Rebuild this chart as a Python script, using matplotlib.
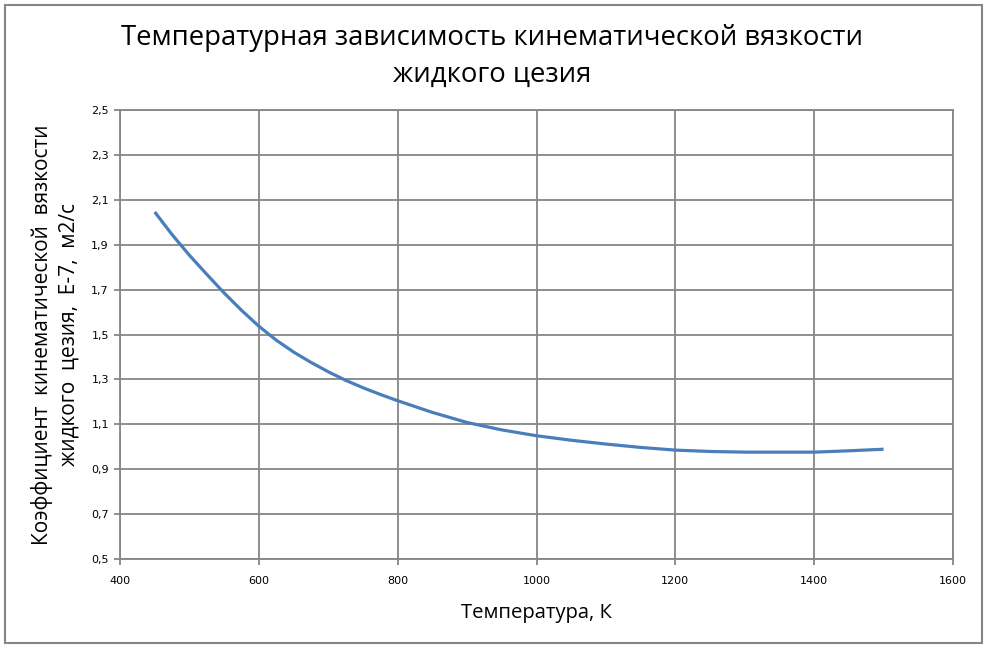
import matplotlib.pyplot as plt
from matplotlib.patches import Rectangle
from matplotlib.ticker import FuncFormatter

# температура, K
temp = [450, 475, 500, 525, 550, 575, 600, 625, 650, 675, 700, 725, 750,
        775, 800, 850, 900, 950, 1000, 1050, 1100, 1150, 1200, 1250, 1300,
        1350, 1400, 1450, 1500]
# кинематическая вязкость, E-7 м2/с
visc = [2.046, 1.945, 1.853, 1.768, 1.685, 1.608, 1.537, 1.475, 1.422,
        1.376, 1.334, 1.296, 1.263, 1.233, 1.205, 1.153, 1.108, 1.075,
        1.049, 1.029, 1.012, 0.997, 0.985, 0.979, 0.976, 0.976, 0.976,
        0.982, 0.989]

grid_c = '#868686'

fig = plt.figure(figsize=(9.87, 6.48), dpi=100)
ax = fig.add_axes([120 / 987, 1 - 559 / 648, 833 / 987, 449 / 648])

ax.plot(temp, visc, color='#4a7ebb', lw=2.3, solid_capstyle='butt')

ax.set_xlim(400, 1600)
ax.set_ylim(0.5, 2.5)
ax.set_xticks(range(400, 1601, 200))
ax.set_yticks([0.5, 0.7, 0.9, 1.1, 1.3, 1.5, 1.7, 1.9, 2.1, 2.3, 2.5])
ax.yaxis.set_major_formatter(FuncFormatter(lambda v, p: f'{v:.1f}'.replace('.', ',')))
ax.grid(True, color=grid_c, lw=1.3)
ax.set_axisbelow(True)
for s in ax.spines.values():
    s.set_color(grid_c)
    s.set_linewidth(1.3)
ax.tick_params(direction='out', length=4, width=1.3, color=grid_c,
               labelsize=8, pad=4)
ax.tick_params(axis='x', pad=8)

fig.text(0.4985, 1 - 56.5 / 648,
         'Температурная зависимость кинематической вязкости\nжидкого цезия',
         ha='center', va='center', fontsize=19.8, family='Open Sans',
         linespacing=1.46)
fig.text(0.5436, 1 - 613 / 648, 'Температура, К', ha='center', va='center',
         fontsize=14.6, family='Open Sans')
fig.text(55 / 987, 1 - 335 / 648,
         'Коэффициент  кинематической  вязкости\nжидкого  цезия,  Е-7,  м2/с',
         ha='center', va='center', rotation=90, fontsize=15,
         family='Open Sans', linespacing=1.35)

fig.add_artist(Rectangle((5 / 987, 5 / 648), 977 / 987, 638 / 648,
                         transform=fig.transFigure, fill=False,
                         edgecolor=grid_c, lw=1.5))

fig.savefig('out.png', dpi=100)
